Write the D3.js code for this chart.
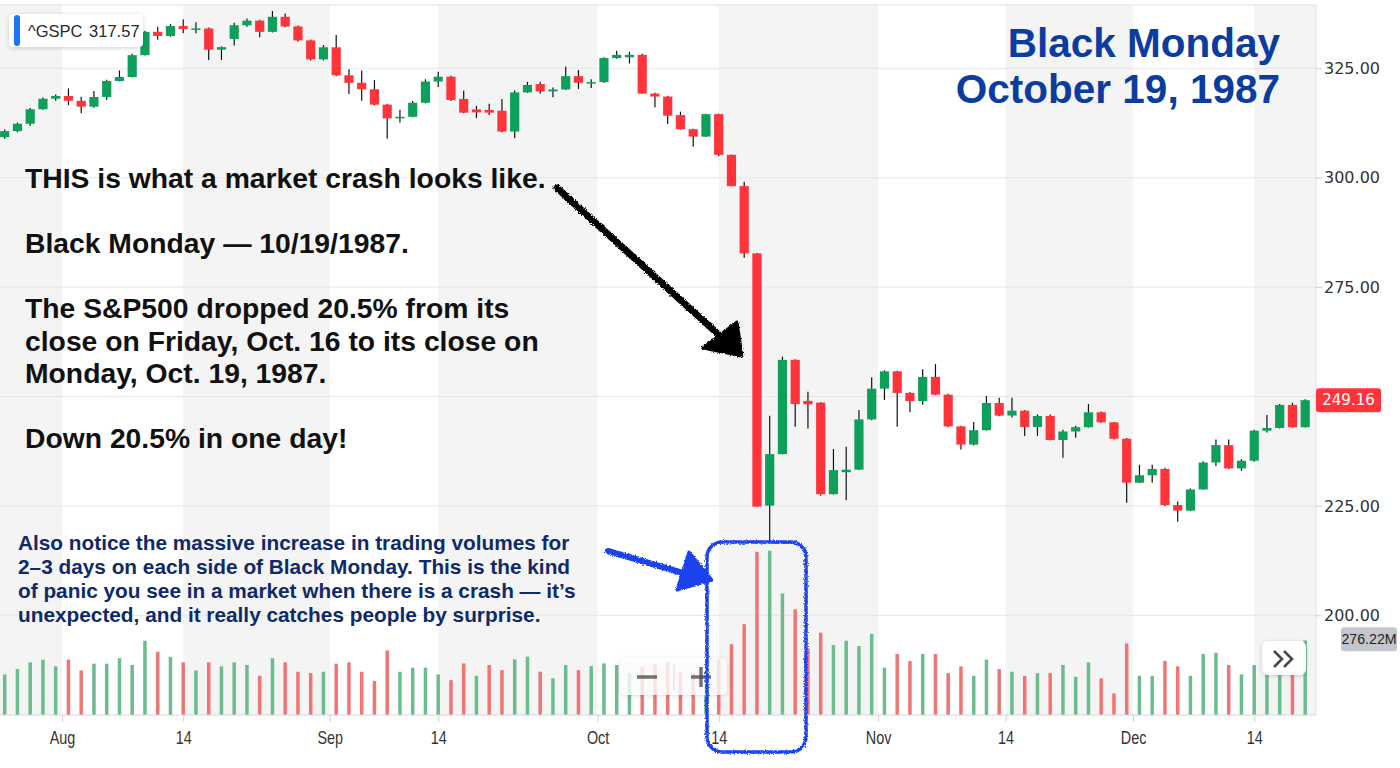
<!DOCTYPE html>
<html><head><meta charset="utf-8">
<script src="https://cdn.jsdelivr.net/npm/d3@7"></script>
<style>
body{margin:0;background:#fff;}
svg{display:block;}
</style>
</head><body>
<svg id="chart" width="1400" height="768"></svg>
<script>
// ---------------- DATA ----------------
const dates = [
"1987-07-27","1987-07-28","1987-07-29","1987-07-30","1987-07-31",
"1987-08-03","1987-08-04","1987-08-05","1987-08-06","1987-08-07","1987-08-10","1987-08-11","1987-08-12","1987-08-13","1987-08-14",
"1987-08-17","1987-08-18","1987-08-19","1987-08-20","1987-08-21","1987-08-24","1987-08-25","1987-08-26","1987-08-27","1987-08-28","1987-08-31",
"1987-09-01","1987-09-02","1987-09-03","1987-09-04","1987-09-08","1987-09-09","1987-09-10","1987-09-11","1987-09-14","1987-09-15","1987-09-16",
"1987-09-17","1987-09-18","1987-09-21","1987-09-22","1987-09-23","1987-09-24","1987-09-25","1987-09-28","1987-09-29","1987-09-30",
"1987-10-01","1987-10-02","1987-10-05","1987-10-06","1987-10-07","1987-10-08","1987-10-09","1987-10-12","1987-10-13","1987-10-14","1987-10-15",
"1987-10-16","1987-10-19","1987-10-20","1987-10-21","1987-10-22","1987-10-23","1987-10-26","1987-10-27","1987-10-28","1987-10-29","1987-10-30",
"1987-11-02","1987-11-03","1987-11-04","1987-11-05","1987-11-06","1987-11-09","1987-11-10","1987-11-11","1987-11-12","1987-11-13","1987-11-16",
"1987-11-17","1987-11-18","1987-11-19","1987-11-20","1987-11-23","1987-11-24","1987-11-25","1987-11-27","1987-11-30",
"1987-12-01","1987-12-02","1987-12-03","1987-12-04","1987-12-07","1987-12-08","1987-12-09","1987-12-10","1987-12-11","1987-12-14","1987-12-15",
"1987-12-16","1987-12-17","1987-12-18"];

const opens = [309.27,310.65,312.33,315.65,318.05, 318.66,317.57,316.23,318.45,322.10,323.00,328.00,333.33,332.39,334.65,
333.99,334.11,329.25,331.70,334.84,335.90,333.33,336.77,334.57,331.38,327.04,
329.80,323.40,321.68,320.21,316.70,313.56,313.92,317.13,321.98,323.08,318.00,
315.60,315.50,315.30,310.54,319.50,321.40,319.72,320.16,323.20,321.69,
321.83,327.33,327.50,328.08,319.22,318.54,314.30,311.07,309.39,314.52,305.23,
298.08,282.70,225.06,236.83,258.38,249.00,248.60,227.67,232.70,233.28,244.77,
251.79,255.75,250.82,248.96,254.48,250.41,243.17,239.00,242.30,248.52,245.64,
246.76,243.04,245.55,240.05,242.00,242.99,246.39,244.10,240.34,
230.30,232.00,233.45,225.21,223.92,228.76,234.91,238.89,233.57,235.32,242.19,
242.81,248.08,242.98];

const highs = [311.0,312.6,315.9,318.3,319.0, 320.4,318.5,319.8,322.4,324.5,328.3,333.6,334.5,335.1,336.2,
335.5,334.3,330.0,335.4,336.4,336.1,338.1,337.5,334.8,331.6,330.3,
332.6,324.8,324.5,322.3,316.9,315.5,317.5,322.5,324.2,323.3,319.9,
316.4,316.9,318.0,319.9,321.9,321.9,320.6,325.4,324.6,322.5,
327.5,329.0,328.8,328.3,319.4,318.7,315.1,311.2,314.6,314.6,305.3,
299.1,282.8,245.6,259.1,258.5,251.1,248.7,238.0,238.5,246.9,254.4,
256.0,255.9,251.0,256.2,257.4,250.6,243.3,244.2,250.1,249.7,249.7,
246.9,245.9,245.9,242.4,243.3,248.3,246.6,244.2,240.5,
234.4,234.4,233.7,226.0,229.0,235.2,240.2,240.2,235.7,242.4,245.8,
248.3,248.6,249.4];

const lows = [308.9,310.4,311.9,315.5,317.6, 316.6,314.7,316.0,317.8,322.0,322.9,327.9,331.5,332.2,333.0,
333.0,326.9,326.9,330.2,334.5,332.1,333.2,334.4,331.1,326.8,326.8,
323.2,319.1,317.6,316.5,308.9,312.6,313.8,317.0,320.7,317.5,314.7,
313.6,314.3,310.4,309.0,319.4,319.2,318.4,320.1,320.3,320.5,
321.7,327.2,326.1,319.2,316.1,312.3,311.0,307.1,309.3,304.9,298.0,
281.7,224.8,216.5,236.8,243.1,242.7,227.4,227.6,226.3,233.2,244.6,
249.2,243.1,246.4,248.1,250.3,243.0,237.9,238.8,242.2,245.5,245.2,
241.0,241.0,240.0,236.0,240.6,242.9,244.0,240.2,225.7,
230.2,230.3,225.0,221.4,223.8,228.7,234.1,233.4,233.0,235.1,241.8,
242.7,242.9,242.9];

const closes = [310.65,312.33,315.65,318.05,318.66, 317.57,316.23,318.45,322.10,323.00,328.00,333.33,332.39,334.65,333.99,
334.11,329.25,329.83,334.84,335.90,333.33,336.77,334.57,331.38,327.04,329.80,
323.40,321.68,320.21,316.70,313.56,313.92,317.13,321.98,323.08,317.74,314.86,
314.93,314.86,310.54,319.50,321.19,319.72,320.16,323.20,321.69,321.83,
327.33,328.07,328.08,319.22,318.54,314.16,311.07,309.39,314.52,305.23,298.08,
282.70,224.84,236.83,258.38,248.25,248.22,227.67,233.19,233.28,244.77,251.79,
255.75,250.82,248.96,254.48,250.41,243.17,239.00,242.30,248.52,245.64,246.76,
243.04,245.55,240.05,242.00,242.99,246.39,244.10,240.34,230.30,
232.00,233.45,225.21,223.92,228.76,234.91,238.89,233.57,235.32,242.19,242.81,
248.08,242.98,249.16];

// volume in millions of shares
const volumes = [150,170,195,205,180, 205,165,190,190,210,185,275,234,215,195,
165,195,180,195,185,145,210,195,160,155,160,
190,195,160,126,239,160,175,175,150,129,191,
145,185,166,206,216,160,136,185,166,181,
191,185,154,179,188,195,158,154,160,206,262,
336,604,608,450,391,247,305,259,275,255,300,
175,226,200,226,226,155,180,145,205,170,160,
145,155,155,185,141,195,136,80,265,
145,145,200,180,145,226,230,185,150,185,190,
195,175,276.22];

const priceTicks = [200, 225, 250, 275, 300, 325];
const tickDates  = ["1987-08-01","1987-08-14","1987-09-01","1987-09-14","1987-10-01","1987-10-14","1987-11-01","1987-11-14","1987-12-01","1987-12-14"];
const tickLabels = ["Aug","14","Sep","14","Oct","14","Nov","14","Dec","14"];

const symbol = "^GSPC";
const legendDate = "1987-08-03";

const titleLines = ["Black Monday", "October 19, 1987"];
const mainNote = [
  "THIS is what a market crash looks like.",
  "",
  "Black Monday \u2014 10/19/1987.",
  "",
  "The S&P500 dropped 20.5% from its",
  "close on Friday, Oct. 16 to its close on",
  "Monday, Oct. 19, 1987.",
  "",
  "Down 20.5% in one day!"
];
const volumeNote = [
  "Also notice the massive increase in trading volumes for",
  "2\u20133 days on each side of Black Monday. This is the kind",
  "of panic you see in a market when there is a crash \u2014 it\u2019s",
  "unexpected, and it really catches people by surprise."
];

// ---------------- CHART ----------------
const svg = d3.select("#chart");
const W = 1400, H = 768;
const plot = {left: 0, right: 1316, top: 5, bottom: 715};

const UP = "#0ea05a", DOWN = "#ff333a";
const VUP = "#6cbd8d", VDOWN = "#f07676";

const x = d3.scalePoint().domain(dates).range([4.7, 1305.2]);
const y = d3.scaleLinear().domain([200, 325]).range([615.3, 68.3]);
const yv = d3.scaleLinear().domain([0, 608]).range([plot.bottom, plot.bottom - 164.3]);

const rows = dates.map((d, i) => ({
  date: d, o: opens[i], h: highs[i], l: lows[i], c: closes[i], v: volumes[i],
  up: closes[i] >= opens[i],
  vup: i === 0 ? closes[i] >= opens[i] : closes[i] >= closes[i - 1]
}));
const last = rows[rows.length - 1];

// tick positions
function tickX(ds) {
  const idx = dates.indexOf(ds);
  const day = +ds.slice(8, 10);
  if (idx >= 0 && day !== 1) return x(ds);
  const next = dates.find(d => d >= ds);
  const ni = dates.indexOf(next);
  return (x(dates[ni - 1]) + x(next)) / 2;
}
const ticks = tickDates.map((d, i) => ({label: tickLabels[i], x: tickX(d)}));

const defs = svg.append("defs");
const rough = defs.append("filter").attr("id", "rough").attr("x", "-10%").attr("y", "-10%").attr("width", "120%").attr("height", "120%");
rough.append("feTurbulence").attr("type", "fractalNoise").attr("baseFrequency", 0.9).attr("numOctaves", 2).attr("seed", 3).attr("result", "n");
rough.append("feDisplacementMap").attr("in", "SourceGraphic").attr("in2", "n").attr("scale", 3.5).attr("xChannelSelector", "R").attr("yChannelSelector", "G");
const shadow = defs.append("filter").attr("id", "shadow").attr("x", "-30%").attr("y", "-30%").attr("width", "160%").attr("height", "160%");
shadow.append("feDropShadow").attr("dx", 0).attr("dy", 1).attr("stdDeviation", 2).attr("flood-color", "#000").attr("flood-opacity", 0.18);

// background bands
const edges = [plot.left, ...ticks.map(t => t.x), plot.right];
const bands = d3.pairs(edges).map((p, i) => ({x0: p[0], x1: p[1], shade: i % 2 === 0}));
svg.append("g").selectAll("rect").data(bands.filter(b => b.shade)).join("rect")
  .attr("x", d => d.x0).attr("y", plot.top).attr("width", d => d.x1 - d.x0).attr("height", plot.bottom - plot.top)
  .attr("fill", "#f4f4f4");

// frame lines
svg.append("line").attr("x1", 0).attr("x2", plot.right).attr("y1", plot.top).attr("y2", plot.top).attr("stroke", "#e0e0e0");
svg.append("line").attr("x1", plot.right).attr("x2", plot.right).attr("y1", plot.top).attr("y2", plot.bottom).attr("stroke", "#e0e0e0");

// grid lines
svg.append("g").selectAll("line").data(priceTicks).join("line")
  .attr("x1", 0).attr("x2", plot.right + 6).attr("y1", d => y(d)).attr("y2", d => y(d))
  .attr("stroke", "#e6e6e6");

// volume bars
svg.append("g").selectAll("rect").data(rows).join("rect")
  .attr("x", d => x(d.date) - 1.75).attr("width", 3.5)
  .attr("y", d => yv(d.v)).attr("height", d => plot.bottom - yv(d.v))
  .attr("fill", d => d.vup ? VUP : VDOWN);

// bottom axis
const xAxis = d3.axisBottom(d3.scaleLinear().domain([0, W]).range([0, W]))
  .tickValues(ticks.map(t => t.x)).tickFormat((d, i) => ticks[i].label).tickSize(7).tickPadding(9);
const gx = svg.append("g").attr("transform", `translate(0,${plot.bottom})`).call(xAxis);
gx.select(".domain").attr("d", `M0,0H${plot.right}`).attr("stroke", "#d6d6d6");
gx.selectAll(".tick line").attr("stroke", "#d0d0d0");
gx.selectAll(".tick text").attr("font-family", "'Liberation Sans',Arial,sans-serif")
  .attr("font-size", 18).attr("fill", "#333").attr("transform", "scale(0.8,1)");

// candles
const cg = svg.append("g");
cg.selectAll("line").data(rows).join("line")
  .attr("x1", d => x(d.date)).attr("x2", d => x(d.date))
  .attr("y1", d => y(d.h)).attr("y2", d => y(d.l))
  .attr("stroke", "#111").attr("stroke-width", 1.2);
cg.selectAll("rect").data(rows).join("rect")
  .attr("x", d => x(d.date) - 4.6).attr("width", 9.2)
  .attr("y", d => y(Math.max(d.o, d.c)))
  .attr("height", d => Math.max(1.5, Math.abs(y(d.o) - y(d.c))))
  .attr("fill", d => d.up ? UP : DOWN);

// right axis labels (a label hidden under the live price tag is not drawn)
const labelTicks = priceTicks.filter(t => Math.abs(y(t) - y(last.c)) > 14);
const yAxis = d3.axisRight(y).tickValues(labelTicks).tickFormat(d3.format(".2f")).tickSize(6).tickPadding(2);
const gy = svg.append("g").attr("transform", `translate(${plot.right},0)`).call(yAxis);
gy.select(".domain").remove();
gy.selectAll(".tick line").attr("stroke", "#d6d6d6");
gy.selectAll(".tick text").attr("font-family", "'DejaVu Sans',sans-serif").attr("font-size", 16).attr("fill", "#333");

// last price label
svg.append("rect").attr("x", plot.right).attr("y", y(last.c) - 12).attr("width", 65).attr("height", 24).attr("rx", 3).attr("fill", DOWN);
svg.append("text").attr("x", plot.right + 32.5).attr("y", y(last.c)).attr("dy", "0.35em").attr("text-anchor", "middle")
  .attr("font-family", "'DejaVu Sans',sans-serif").attr("font-size", 15).attr("fill", "#fff").text(last.c.toFixed(2));

// last volume label
svg.append("rect").attr("x", 1341).attr("y", yv(last.v) - 13).attr("width", 56).attr("height", 24).attr("rx", 3).attr("fill", "#c3c6cc");
svg.append("text").attr("x", 1369).attr("y", yv(last.v) - 1).attr("dy", "0.35em").attr("text-anchor", "middle")
  .attr("font-family", "'Liberation Sans',Arial,sans-serif").attr("font-size", 14.2).attr("fill", "#222").text(last.v.toFixed(2) + "M");

// legend
const lg = svg.append("g");
lg.append("rect").attr("x", 9).attr("y", 14).attr("width", 134).attr("height", 33).attr("rx", 4).attr("fill", "#fff").attr("filter", "url(#shadow)");
lg.append("rect").attr("x", 14).attr("y", 15).attr("width", 6).attr("height", 31).attr("rx", 3).attr("fill", "#1d74f5");
lg.append("text").attr("x", 28).attr("y", 37).attr("font-family", "'Liberation Sans',Arial,sans-serif").attr("font-size", 16.5)
  .attr("fill", "#232a31").attr("word-spacing", 2)
  .text(symbol + " " + closes[dates.indexOf(legendDate)].toFixed(2));

// zoom control
const zc = svg.append("g");
zc.append("rect").attr("x", 620).attr("y", 658).attr("width", 107).attr("height", 37).attr("rx", 6).attr("fill", "rgba(255,255,255,0.78)").attr("filter", "url(#shadow)");
zc.append("line").attr("x1", 637).attr("x2", 657).attr("y1", 677).attr("y2", 677).attr("stroke", "rgba(70,70,70,0.75)").attr("stroke-width", 3.5);
zc.append("line").attr("x1", 691).attr("x2", 711).attr("y1", 677).attr("y2", 677).attr("stroke", "rgba(70,70,70,0.75)").attr("stroke-width", 3.5);
zc.append("line").attr("x1", 701).attr("x2", 701).attr("y1", 667).attr("y2", 687).attr("stroke", "rgba(70,70,70,0.75)").attr("stroke-width", 3.5);
zc.append("line").attr("x1", 674).attr("x2", 674).attr("y1", 664).attr("y2", 690).attr("stroke", "rgba(200,200,200,0.6)").attr("stroke-width", 1);

// >> button
const bt = svg.append("g");
bt.append("rect").attr("x", 1262).attr("y", 641).attr("width", 44).attr("height", 34).attr("rx", 6).attr("fill", "#fff").attr("filter", "url(#shadow)");
bt.append("path").attr("d", "M1274,651L1282,659L1274,667M1284,651L1292,659L1284,667")
  .attr("fill", "none").attr("stroke", "#454a50").attr("stroke-width", 2.6);

// title
svg.append("g").selectAll("text").data(titleLines).join("text")
  .attr("x", 1280).attr("y", (d, i) => 57 + i * 46).attr("text-anchor", "end")
  .attr("font-family", "'Liberation Sans',Arial,sans-serif").attr("font-weight", "bold").attr("font-size", 40.5)
  .attr("fill", "#0c3c9f").text(d => d);

// main note
svg.append("g").selectAll("text").data(mainNote).join("text")
  .attr("x", 25).attr("y", (d, i) => 188 + i * 32.5)
  .attr("font-family", "'Liberation Sans',Arial,sans-serif").attr("font-weight", "bold").attr("font-size", 28.3)
  .attr("fill", "#111").text(d => d);

// volume note
svg.append("g").selectAll("text").data(volumeNote).join("text")
  .attr("x", 18).attr("y", (d, i) => 550 + i * 24)
  .attr("font-family", "'Liberation Sans',Arial,sans-serif").attr("font-weight", "bold").attr("font-size", 20.8)
  .attr("fill", "#0f2a6b").text(d => d);

// hand-drawn black arrow
const ba = svg.append("g").attr("filter", "url(#rough)");
ba.append("line").attr("x1", 557).attr("y1", 188).attr("x2", 718).attr("y2", 334).attr("stroke", "#000").attr("stroke-width", 7).attr("stroke-linecap", "round");
ba.append("path").attr("d", "M703,348L737,322L742,356Z").attr("fill", "#000").attr("stroke", "#000").attr("stroke-width", 3).attr("stroke-linejoin", "round");

// hand-drawn blue arrow and box
const blue = "#1b43f0";
const bb = svg.append("g").attr("filter", "url(#rough)");
bb.append("line").attr("x1", 608).attr("y1", 551).attr("x2", 693).attr("y2", 576).attr("stroke", blue).attr("stroke-width", 6).attr("stroke-linecap", "round");
bb.append("path").attr("d", "M689,552L712,580L677,590Z").attr("fill", blue).attr("stroke", blue).attr("stroke-width", 3).attr("stroke-linejoin", "round");
bb.append("rect").attr("x", 707).attr("y", 542).attr("width", 99).attr("height", 210).attr("rx", 15)
  .attr("fill", "none").attr("stroke", blue).attr("stroke-width", 3.5);
</script>
</body></html>
